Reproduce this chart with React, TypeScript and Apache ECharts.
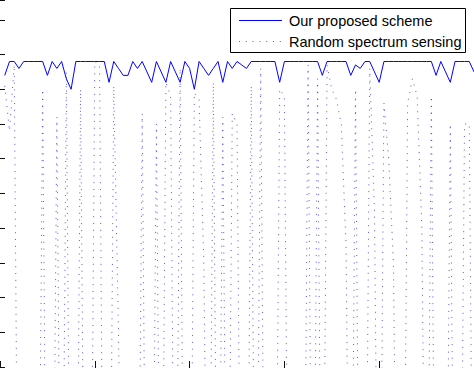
import React, { useEffect, useRef } from "react";
import * as echarts from "echarts";

// Trial index (x axis) 1..100
const runs: number[] = Array.from({ length: 100 }, (_, i) => i + 1);

// Solid line: "Our proposed scheme"
const proposed: number[] = [
  0.84, 0.88, 0.88, 0.86, 0.88, 0.88, 0.88, 0.88, 0.88, 0.84,
  0.88, 0.86, 0.88, 0.83, 0.80, 0.88, 0.88, 0.88, 0.88, 0.88,
  0.88, 0.88, 0.82, 0.88, 0.86, 0.84, 0.84, 0.88, 0.86, 0.88,
  0.85, 0.82, 0.88, 0.85, 0.82, 0.88, 0.85, 0.82, 0.88, 0.86,
  0.80, 0.88, 0.86, 0.84, 0.86, 0.88, 0.82, 0.88, 0.86, 0.88,
  0.87, 0.86, 0.88, 0.88, 0.88, 0.88, 0.88, 0.88, 0.82, 0.88,
  0.88, 0.88, 0.88, 0.88, 0.88, 0.88, 0.88, 0.84, 0.88, 0.88,
  0.88, 0.88, 0.88, 0.84, 0.87, 0.86, 0.88, 0.88, 0.85, 0.82,
  0.88, 0.88, 0.88, 0.88, 0.88, 0.88, 0.88, 0.88, 0.88, 0.88,
  0.88, 0.84, 0.88, 0.85, 0.82, 0.88, 0.88, 0.88, 0.88, 0.85,
];

// Dotted line: "Random spectrum sensing" (deep drops fall below the visible range)
const randomSensing: number[] = [
  0.81, 0.68, 0.87, -1, -1, -1, -1, -1, 0.80, -1,
  -1, 0.72, -1, 0.85, -1, -1, 0.80, -1, -1, 0.88,
  0.87, -1, -1, 0.81, 0.10, -1, -1, -1, -1, 0.73,
  -1, -1, 0.70, -1, 0.82, 0.78, -1, 0.86, -1, -1,
  0.79, 0.77, 0.30, -1, 0.82, -1, 0.72, -1, 0.73, 0.70,
  -1, -1, 0.81, -1, 0.86, -1, -1, -1, 0.80, 0.78,
  -1, -1, -1, -1, 0.87, -1, 0.83, -1, 0.87, 0.80,
  0.77, 0.70, 0.35, -1, 0.80, -1, -1, 0.86, 0.45, -1,
  0.76, 0.60, 0.30, -1, -1, 0.76, 0.83, 0.78, 0.40, -1,
  0.78, -1, -1, -1, 0.70, -1, -1, 0.70, 0.70, -1,
];

const seriesNames = ["Our proposed scheme", "Random spectrum sensing"];
const SOLID_COLOR = "#0000ff";
const DOT_COLOR = "#2a2ae8";
const DOT_DASH = [1, 5.8];

const X_MIN = 0;
const X_MAX = 100;
const X_STEP = 20;
const Y_MIN = 0;
const Y_MAX = 1.0571;
const Y_STEP = 0.1;

export default function App() {
  const ref = useRef<HTMLDivElement>(null);

  useEffect(() => {
    if (!ref.current) return;
    const chart = echarts.init(ref.current, undefined, { renderer: "svg" });
    const tick = (len: number) => ({
      show: true,
      inside: true,
      length: len,
      lineStyle: { color: "#111", width: 1 },
    });
    const xBase = {
      type: "value" as const,
      min: X_MIN,
      max: X_MAX,
      interval: X_STEP,
      axisLine: { show: false },
      axisLabel: { show: false },
      splitLine: { show: false },
    };
    const yBase = {
      type: "value" as const,
      min: Y_MIN,
      max: Y_MAX,
      interval: Y_STEP,
      axisLine: { show: false },
      axisLabel: { show: false },
      splitLine: { show: false },
    };
    const font = "'Liberation Sans', Arial, Helvetica, sans-serif";
    chart.setOption({
      animation: false,
      backgroundColor: "#ffffff",
      grid: { left: 0, right: 0, top: -3, bottom: 1, containLabel: false },
      xAxis: [
        { ...xBase, position: "bottom", axisTick: tick(6) },
        { ...xBase, position: "top", axisTick: tick(7) },
      ],
      yAxis: [
        { ...yBase, position: "left", axisTick: tick(5) },
        { ...yBase, position: "right", axisTick: tick(9) },
      ],
      graphic: [
        {
          type: "group",
          left: 230,
          top: 8,
          z: 100,
          children: [
            {
              type: "rect",
              shape: { x: 0.5, y: 0.5, width: 235, height: 44 },
              style: { fill: "#ffffff", stroke: "#000000", lineWidth: 1 },
            },
            {
              type: "line",
              shape: { x1: 9, y1: 12.5, x2: 52, y2: 12.5 },
              style: { stroke: SOLID_COLOR, lineWidth: 1 },
            },
            {
              type: "text",
              x: 59,
              y: 13,
              style: {
                text: seriesNames[0],
                fill: "#000000",
                fontSize: 14.5,
                fontFamily: font,
                verticalAlign: "middle",
                align: "left",
              },
            },
            {
              type: "line",
              shape: { x1: 9, y1: 33.5, x2: 52, y2: 33.5 },
              style: { stroke: DOT_COLOR, lineWidth: 1, lineDash: DOT_DASH, opacity: 0.8 },
            },
            {
              type: "text",
              x: 59,
              y: 34,
              style: {
                text: seriesNames[1],
                fill: "#000000",
                fontSize: 14.5,
                fontFamily: font,
                verticalAlign: "middle",
                align: "left",
              },
            },
          ],
        },
      ],
      series: [
        {
          name: seriesNames[0],
          type: "line",
          symbol: "none",
          data: runs.map((r, i) => [r, proposed[i]]),
          lineStyle: { color: SOLID_COLOR, width: 1 },
          itemStyle: { color: SOLID_COLOR },
          z: 2,
        },
        {
          name: seriesNames[1],
          type: "line",
          symbol: "none",
          data: runs.map((r, i) => [r, randomSensing[i]]),
          lineStyle: { color: DOT_COLOR, width: 1, type: DOT_DASH, opacity: 0.8 },
          itemStyle: { color: DOT_COLOR },
          z: 3,
        },
      ],
    });
    return () => chart.dispose();
  }, []);

  return (
    <div
      ref={ref}
      style={{ position: "fixed", left: 0, top: 0, width: 474, height: 368 }}
    />
  );
}
